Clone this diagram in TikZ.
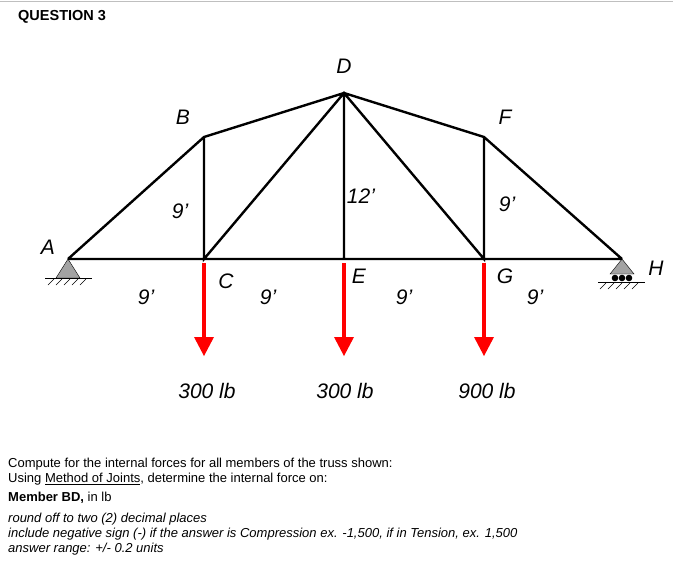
\documentclass[tikz,border=0pt]{standalone}
\usepackage{fontspec}
\setmainfont{Liberation Sans}
\begin{document}
\begin{tikzpicture}[x=1pt,y=-1pt,
  mem/.style={line width=2.4pt},
  lbl/.style={font=\fontsize{21}{21}\selectfont\itshape},
  txt/.style={font=\fontsize{13}{14}\selectfont,anchor=west,inner sep=0},
  load/.style={draw=red,line width=3.5pt}]
\useasboundingbox (0,0) rectangle (673,563);
\fill[white] (0,0) rectangle (673,563);
\draw[gray!50] (0,1) -- (673,1);
\node[font=\bfseries\fontsize{14.5}{14.5}\selectfont,anchor=west,inner sep=0] (q) at (18,17) {QUESTION 3};
\coordinate (A) at (68,259); \coordinate (C) at (204,259); \coordinate (E) at (344,259);
\coordinate (G) at (484,259); \coordinate (H) at (622,259);
\coordinate (B) at (204,137); \coordinate (D) at (344,93); \coordinate (F) at (484,137);
% supports
\draw[fill=gray!80!black!60] (68,259) -- (56,278) -- (80,278) -- cycle;
\draw[line width=1pt] (45,278) -- (92,278);
\foreach \x in {50,58,66,74,82} \draw (\x+4,279) -- (\x-2,285);
\draw[fill=gray!80!black!60] (622,259) -- (610,274) -- (634,274) -- cycle;
\foreach \x in {615,622,629} \fill (\x,278) circle (3.3);
\draw[line width=1pt] (598,282) -- (645,282);
\foreach \x in {602,610,618,626,634} \draw (\x+4,283) -- (\x-2,289);
\draw[mem] (A) -- (H) (A) -- (B) -- (D) -- (F) -- (H) (B) -- (C) -- (D) -- (G) -- (F) (D) -- (E);
% loads
\foreach \p in {C,E,G}{
  \draw[load] ([yshift=-4]\p) -- ([yshift=-80]\p);
  \fill[red] ([xshift=-10,yshift=-78]\p) -- ([xshift=10,yshift=-78]\p) -- ([yshift=-97]\p) -- cycle;}
\node[lbl] (lA) at (48,247) {A};
\node[lbl] (lB) at (183,117) {B};
\node[lbl] (lD) at (344,66) {D};
\node[lbl] (lF) at (505,117) {F};
\node[lbl] (lH) at (656,268) {H};
\node[lbl] (lC) at (226,281) {C};
\node[lbl] (lE) at (359,276) {E};
\node[lbl] (lG) at (505,276) {G};
\foreach \x/\y/\n in {146/297/a,268/297/b,404/297/c,535/297/d,180/211/e,507/204/f}
  \node[lbl] (d\n) at (\x,\y) {9'};
\node[lbl] (d12) at (361,196) {12'};
\node[lbl] (w1) at (207,391) {300 lb};
\node[lbl] (w2) at (345,391) {300 lb};
\node[lbl] (w3) at (487,391) {900 lb};
\node[txt] (t1) at (8,464) {Compute for the internal forces for all members of the truss shown:};
\node[txt] (t2) at (8,479) {Using \underline{Method of Joints}, determine the internal force on:};
\node[txt] (t3) at (8,498) {\textbf{Member BD,} in lb};
\node[txt,font=\fontsize{13}{14}\selectfont\itshape] (t4) at (8,519) {round off to two (2) decimal places};
\node[txt,font=\fontsize{13}{14}\selectfont\itshape] (t5) at (8,534) {include negative sign (-) if the answer is Compression ex. -1,500, if in Tension, ex. 1,500};
\node[txt,font=\fontsize{13}{14}\selectfont\itshape] (t6) at (8,549) {answer range: +/- 0.2 units};
\end{tikzpicture}
\end{document}
